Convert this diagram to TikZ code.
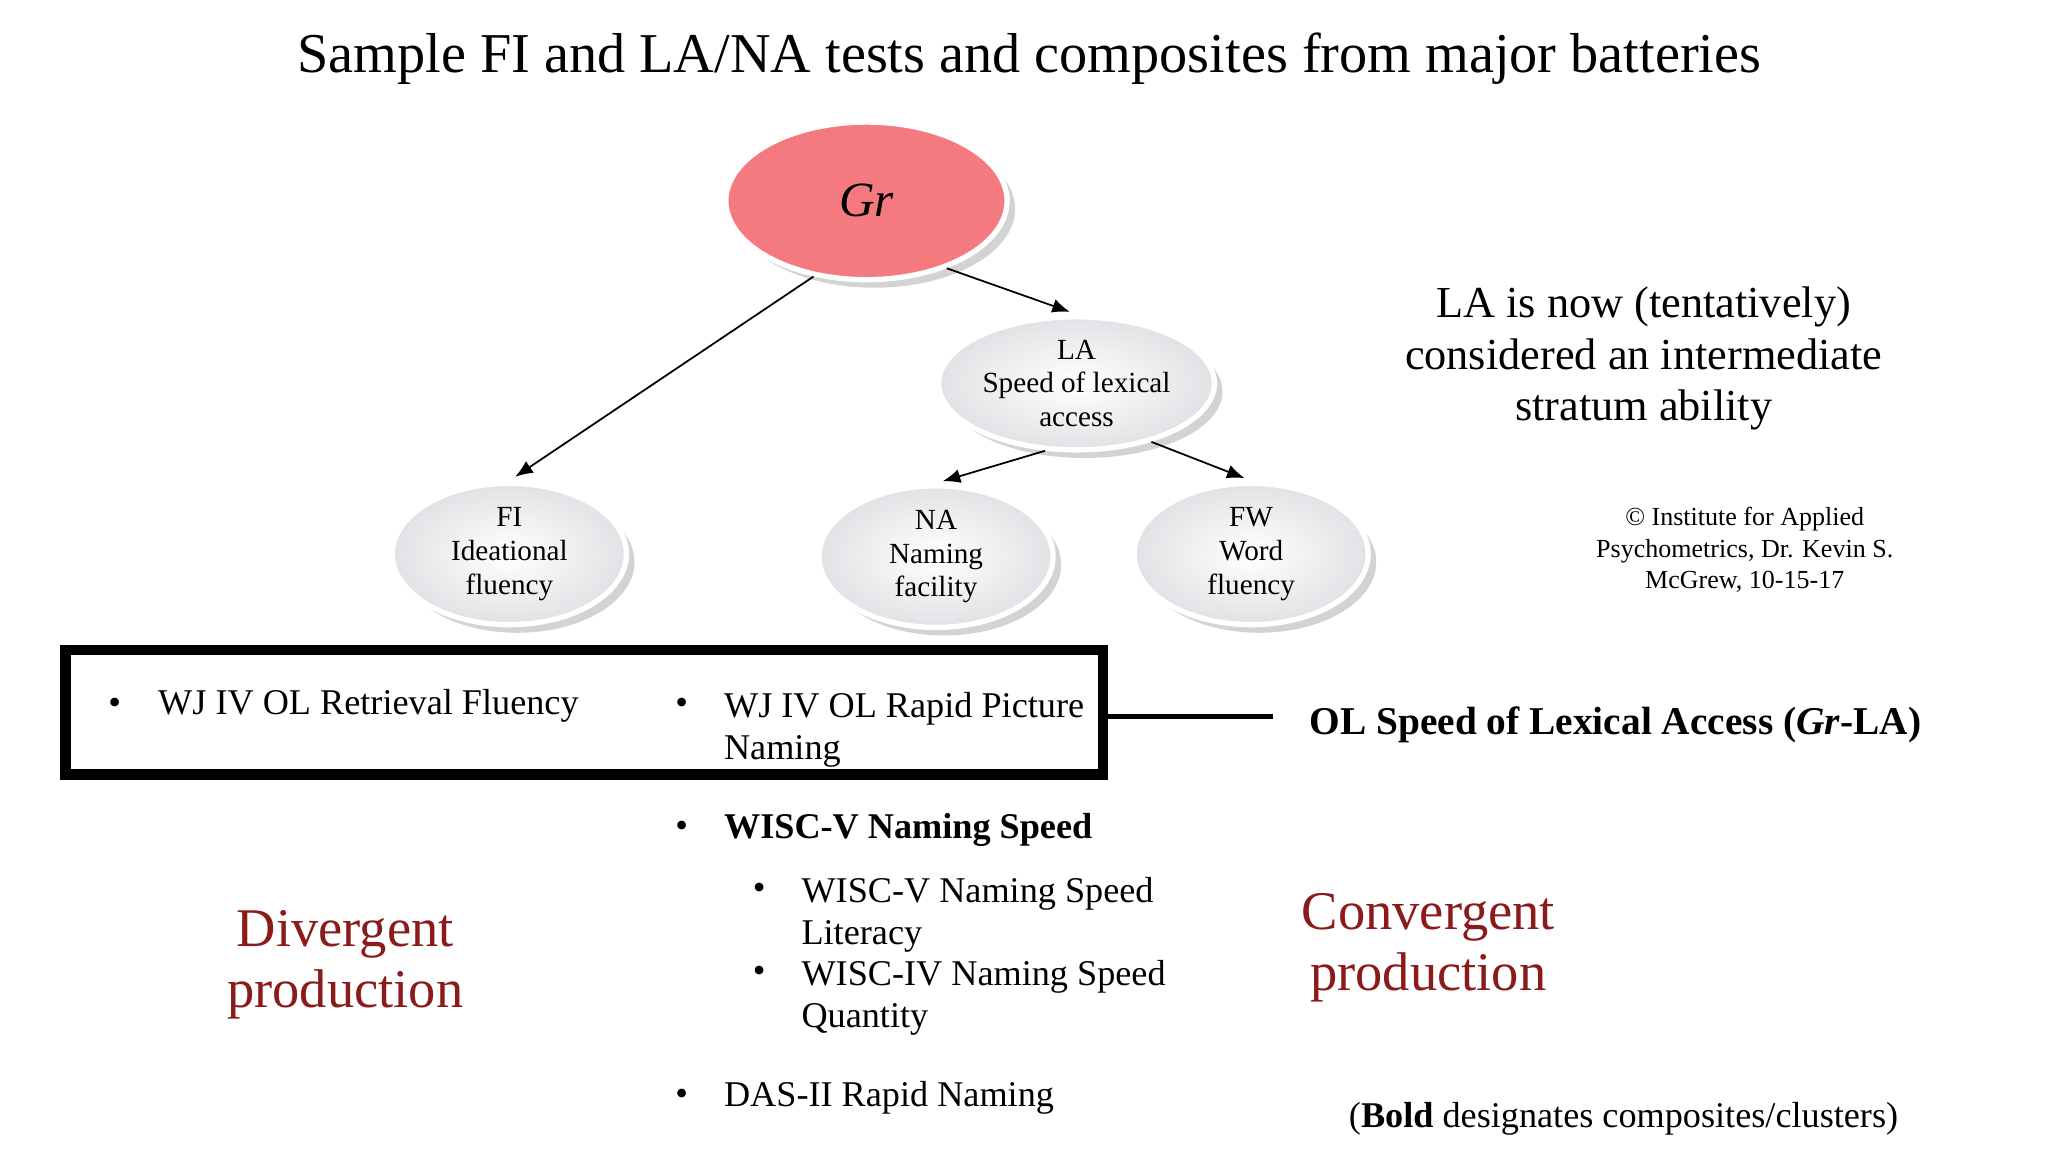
\documentclass[tikz,border=0pt]{standalone}
\usepackage{fontspec}
\setmainfont{Liberation Serif}
\usetikzlibrary{shapes.geometric,shadows,arrows.meta}
\definecolor{grred}{HTML}{F47A80}
\definecolor{nodegray}{HTML}{E2E2E6}
\definecolor{darkred}{HTML}{8B1A1A}
\tikzset{
  grnode/.style={ellipse, draw=white, line width=1.5pt, fill=grred,
    minimum width=2.81cm, minimum height=1.575cm, drop shadow={opacity=0.35}},
  abnode/.style={ellipse, draw=white, line width=1.5pt, inner color=white, outer color=nodegray,
    minimum width=2.34cm, minimum height=1.31cm, inner sep=1pt, align=center,
    font=\fontsize{8.3}{9.6}\selectfont, drop shadow={opacity=0.35}},
  link/.style={-{Latex[length=5pt,width=4pt]}, line width=0.5pt, shorten >=2pt},
  txt/.style={anchor=west, inner sep=0pt, align=left, font=\fontsize{10.3}{11.8}\selectfont},
  bul/.style={anchor=west, inner sep=0pt, font=\fontsize{10.3}{11.8}\selectfont},
}
\begin{document}
\begin{tikzpicture}[x=0.013128cm, y=-0.013128cm]
\useasboundingbox (0,0) rectangle (1560,877.5);
% title
\node[inner sep=0pt, font=\fontsize{16}{19}\selectfont] (title) at (784,45) {Sample FI and LA/NA tests and composites from major batteries};
% abilities
\node[grnode, font=\fontsize{14}{16}\selectfont\itshape] (gr) at (660,153) {Gr};
\node[abnode] (la) at (820,292) {LA\\Speed of lexical\\access};
\node[abnode] (fi) at (388,422) {FI\\Ideational\\fluency};
\node[abnode] (na) at (713,424) {NA\\Naming\\facility};
\node[abnode] (fw) at (953,422) {FW\\Word\\fluency};
\draw[link] (gr.-125) -- (fi.north);
\draw[link] (gr.-40) -- (la.north);
\draw[link] (la.-115) -- (na.north);
\draw[link] (la.-38) -- (fw.north);
% tests
\draw[line width=3pt] (50,495) rectangle (840,590);
\coordinate (boxr) at (840,546);
\node[bul] (b1) at (82,538) {•};
\node[txt] (t1) at (120,538) {WJ IV OL Retrieval Fluency};
\node[bul] (b2) at (514,538) {•};
\node[txt, anchor=north west] (t2) at (551,527) {WJ IV OL Rapid Picture\\Naming};
\node[bul] (b3) at (514,632) {•};
\node[txt, font=\fontsize{10.3}{11.8}\selectfont\bfseries] (t3) at (551,632) {WISC-V Naming Speed};
\node[bul] (b4) at (573,679) {•};
\node[txt, anchor=north west] (t4) at (610,668) {WISC-V Naming Speed\\Literacy};
\node[bul] (b5) at (573,742) {•};
\node[txt, anchor=north west] (t5) at (610,731) {WISC-IV Naming Speed\\Quantity};
\node[bul] (b6) at (514,836) {•};
\node[txt] (t6) at (551,836) {DAS-II Rapid Naming};
% right side
\node[inner sep=0pt, align=center, font=\fontsize{12.6}{14.6}\selectfont] (note) at (1252,273) {LA is now (tentatively)\\considered an intermediate\\stratum ability};
\node[inner sep=0pt, align=center, font=\fontsize{7.4}{8.9}\selectfont] (copy) at (1329,419) {© Institute for Applied\\Psychometrics, Dr. Kevin S.\\McGrew, 10-15-17};
\coordinate (linee) at (970,546);
\draw[line width=1.5pt] (boxr) -- (linee);
\node[txt, font=\fontsize{11.2}{13}\selectfont\bfseries] (ol) at (997,552) {OL Speed of Lexical Access (\textit{Gr}-LA)};
\node[inner sep=0pt, align=center, text=darkred, font=\fontsize{15.5}{17.5}\selectfont] (div) at (263,735) {Divergent\\production};
\node[inner sep=0pt, align=center, text=darkred, font=\fontsize{15.5}{17.5}\selectfont] (conv) at (1088,722) {Convergent\\production};
\node[txt, font=\fontsize{10.3}{12}\selectfont] (bold) at (1027,852) {(\textbf{Bold} designates composites/clusters)};
\end{tikzpicture}
\end{document}
